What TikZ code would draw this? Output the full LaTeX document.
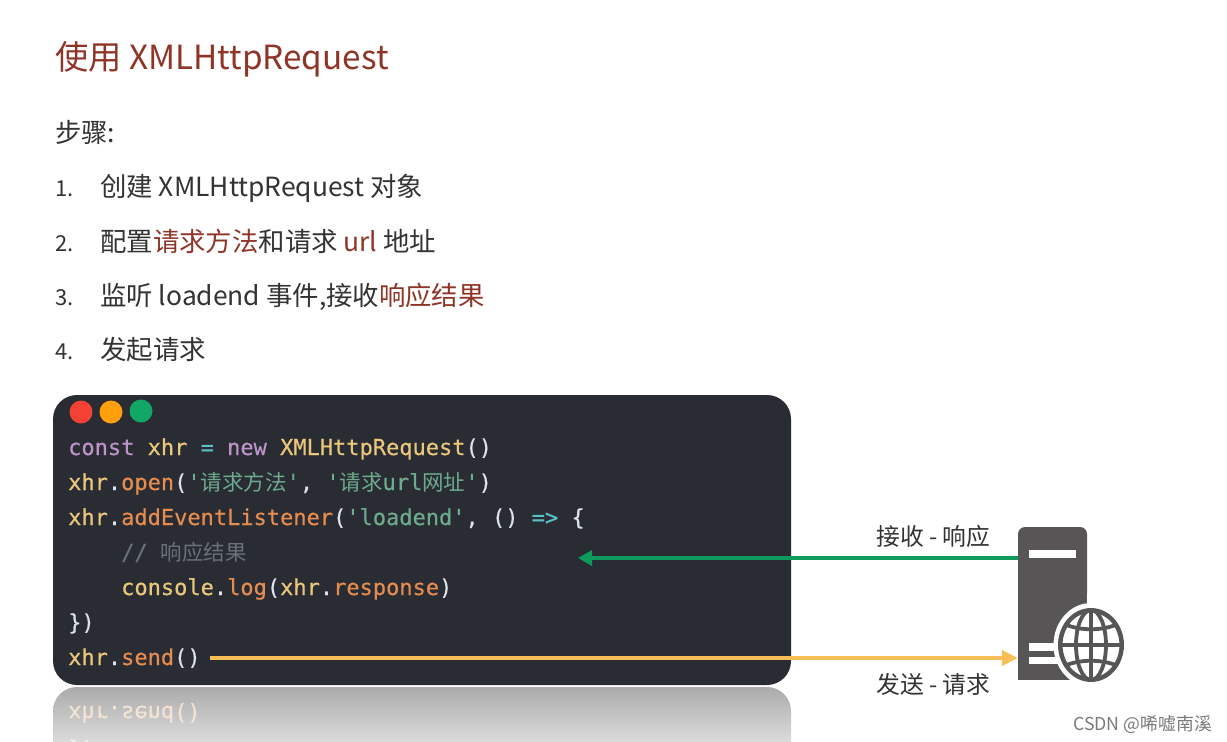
\documentclass[tikz,border=0pt]{standalone}
\usepackage{fontspec}
\setmainfont{Noto Sans CJK SC}
\setmonofont[FakeBold=0.35]{DejaVu Sans Mono}
\newfontfamily\zhcode{Noto Sans CJK SC}
\usetikzlibrary{arrows.meta}
\definecolor{titlered}{HTML}{8F3528}
\definecolor{bodyink}{HTML}{333333}
\definecolor{panel}{HTML}{292C33}
\definecolor{cpurple}{HTML}{BE93C9}
\definecolor{cyellow}{HTML}{EBC77C}
\definecolor{ccyan}{HTML}{5BC0C8}
\definecolor{cwhite}{HTML}{DDE2EA}
\definecolor{corange}{HTML}{E58C50}
\definecolor{cgreen}{HTML}{6DAA8E}
\definecolor{cgrey}{HTML}{6A7078}
\definecolor{arrowgreen}{HTML}{0E9A5B}
\definecolor{arrowyellow}{HTML}{F7BE55}
\definecolor{srvgrey}{HTML}{575556}
\newcommand\tk[2]{\textcolor{#1}{#2}}
\newcommand\zc[2]{\textcolor{#1}{{\zhcode\fontsize{21.5}{24}\selectfont #2}}}
\tikzset{
  x=1pt,y=-1pt,
  title/.style={anchor=base west,inner sep=0,font=\fontsize{33.3}{36}\selectfont,text=titlered},
  body/.style={anchor=base west,inner sep=0,font=\fontsize{26.4}{30}\selectfont,text=bodyink},
  num/.style={anchor=base west,inner sep=0,font=\fontsize{22}{24}\selectfont,text=bodyink},
  code/.style={anchor=base west,inner sep=0,font=\ttfamily\fontsize{22}{26}\selectfont,text=cwhite},
  side/.style={anchor=center,inner sep=0,font=\fontsize{23.8}{26}\selectfont,text=bodyink},
  dot/.style={circle,inner sep=0,minimum size=23pt},
  mirror/.style={anchor=base west,inner sep=0,yscale=-1,transform shape,font=\ttfamily\fontsize{22}{26}\selectfont},
  link/.style={line width=4pt},
  bar/.style={fill=white,draw=none},
  globe/.style={draw=srvgrey,line width=4.5pt},
}
\begin{document}
\begin{tikzpicture}
\useasboundingbox (0,0) rectangle (1227,742);
\fill[white] (0,0) rectangle (1227,742);

% headings and steps
\node[title] (t) at (55,69) {使用 XMLHttpRequest};
\node[body] (h) at (55,142) {步骤:};
\node[num] (n1) at (55,196) {1.};
\node[body] (s1) at (100,196) {创建 XMLHttpRequest 对象};
\node[num] (n2) at (55,251) {2.};
\node[body] (s2) at (100,251) {配置\textcolor{titlered}{请求方法}和请求 \textcolor{titlered}{url} 地址};
\node[num] (n3) at (55,305) {3.};
\node[body] (s3) at (100,305) {监听 loadend 事件,接收\textcolor{titlered}{响应结果}};
\node[num] (n4) at (55,359) {4.};
\node[body] (s4) at (100,359) {发起请求};

% reflection below the panel
\path[top color=black!33,bottom color=black!4,rounded corners=24pt] (53,770) -- (53,687) -- (791,687) -- (791,770) -- cycle;
\node[mirror,text=white!85!orange,opacity=.8] (rs) at (68,706) {xhr.send()};
\node[mirror,text=white,opacity=.6] (rb) at (68,743) {\})};

% code panel
\fill[panel,rounded corners=24pt] (53,395) rectangle (791,685);
\node[dot,fill={rgb,255:red,244;green,67;blue,54}] (d1) at (81,412) {};
\node[dot,fill={rgb,255:red,255;green,159;blue,10}] (d2) at (111,412) {};
\node[dot,fill={rgb,255:red,18;green,167;blue,103}] (d3) at (141,411) {};

\node[code] (c1) at (68,455) {\tk{cpurple}{const} \tk{cyellow}{xhr} \tk{ccyan}{=} \tk{cpurple}{new} \tk{cyellow}{XMLHttpRequest}()};
\node[code] (c2) at (68,490) {\tk{cyellow}{xhr}.\tk{corange}{open}(\tk{cgreen}{'}\zc{cgreen}{请求方法}\tk{cgreen}{'}, \tk{cgreen}{'}\zc{cgreen}{请求}\tk{cgreen}{url}\zc{cgreen}{网址}\tk{cgreen}{'})};
\node[code] (c3) at (68,525) {\tk{cyellow}{xhr}.\tk{corange}{addEventListener}(\tk{cgreen}{'loadend'}, () \tk{ccyan}{=>} \{};
\node[code] (c4) at (121,560) {\tk{cgrey}{//} \zc{cgrey}{响应结果}};
\node[code] (c5) at (121,595) {\tk{cyellow}{console}.\tk{corange}{log}(\tk{cyellow}{xhr}.\tk{corange}{response})};
\node[code] (c6) at (68,630) {\})};
\node[code] (c7) at (68,665) {\tk{cyellow}{xhr}.\tk{corange}{send}()};

% server
\node[inner sep=0,minimum width=69pt,minimum height=153pt] (srv) at (1052.5,603.5) {};
\fill[srvgrey,rounded corners=7pt] (1018,600) -- (1018,527) -- (1087,527) -- (1087,600) -- cycle;
\fill[srvgrey] (1018,590) rectangle (1087,680);
\fill[bar] (1029,550) rectangle (1076,558);
\fill[bar] (1029,643) rectangle (1062,651);
\fill[bar] (1029,657) rectangle (1062,664);
\fill[white] (1091,645) ellipse (37.5 and 42);
\draw[globe] (1091,645) ellipse (30.7 and 34.7);
\begin{scope}[globe,line width=3.8pt]
  \clip (1091,645) ellipse (31 and 35);
  \draw (1091,645) ellipse (15 and 35);
  \draw (1091,608) -- (1091,682);
  \draw (1058,645) -- (1124,645);
  \draw (1064,624) .. controls (1080,631) and (1102,631) .. (1118,624);
  \draw (1064,666) .. controls (1080,659) and (1102,659) .. (1118,666);
\end{scope}

% connectors
\coordinate (recv) at (578,558);
\draw[link,arrowgreen,-{Triangle[length=14pt,width=15pt]}] (srv.west |- recv) -- (recv);
\coordinate (sendy) at (0,658);
\coordinate (sendstart) at (210,658);
\draw[link,arrowyellow,-{Triangle[length=16pt,width=15pt]}] (sendstart) -- (srv.west |- sendy);

\node[side] (l1) at (933.5,536) {接收 - 响应};
\node[side] (l2) at (933.5,684) {发送 - 请求};
\node[anchor=base east,inner sep=0,font=\fontsize{17.8}{20}\selectfont,text=black!52] (wm) at (1212,730) {CSDN @唏嘘南溪};
\end{tikzpicture}
\end{document}
